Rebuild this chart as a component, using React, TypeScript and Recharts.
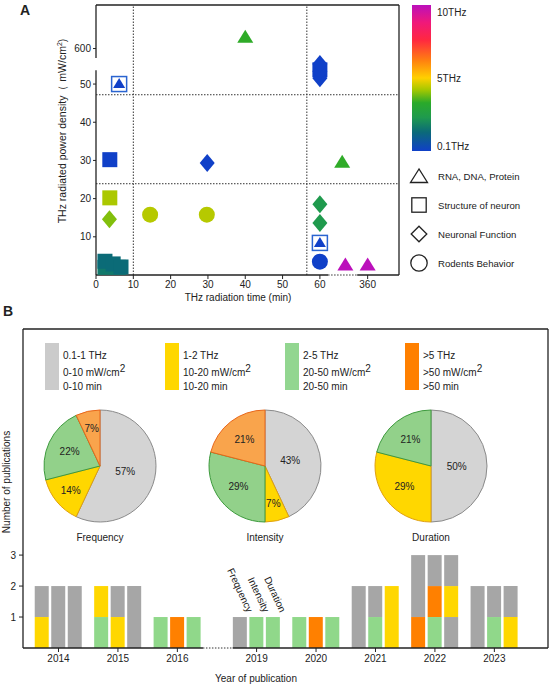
import React from 'react';
import {
  ScatterChart,
  Scatter,
  XAxis,
  YAxis,
  ReferenceLine,
  Legend,
  BarChart,
  Bar,
  Cell,
  LabelList,
  PieChart,
  Pie,
  Label,
} from 'recharts';

const FONT = '"Liberation Sans", Arial, sans-serif';
const INK = '#222';

// ---------- Panel A data (time in min, power in mW/cm2, frequency in THz) ----------
const minuteTicks = [0, 10, 20, 30, 40, 50, 60, 360];
const powerTicks = [10, 20, 30, 40, 50, 600];
const timeThresholds = [10, 56.5];
const powerThresholds = [23.9, 47.2];

const rnaDnaProtein = [
  { t: 40, p: 790, f: 3.4 },
  { t: 200, p: 29.8, f: 3.4 },
  { t: 220, p: 2.9, f: 10 },
  { t: 360, p: 2.9, f: 10 },
];
const neuronStructure = [
  { t: 2.4, p: 2.0, f: 1.7 },
  { t: 6.0, p: 2.0, f: 1.7 },
  { t: 2.4, p: 3.6, f: 1.4 },
  { t: 4.6, p: 2.9, f: 1.4 },
  { t: 6.7, p: 2.1, f: 1.4 },
  { t: 3.7, p: 30.2, f: 0.1 },
  { t: 3.7, p: 20.2, f: 4.3 },
  { t: 60, p: 270, f: 0.1 },
];
const neuronalFunction = [
  { t: 29.8, p: 29.3, f: 0.1 },
  { t: 3.6, p: 14.6, f: 4.0 },
  { t: 60, p: 18.5, f: 2.4 },
  { t: 60, p: 13.6, f: 2.4 },
  { t: 60, p: 140, f: 0.1 },
  { t: 60, p: 250, f: 0.1 },
  { t: 60, p: 360, f: 0.1 },
];
const rodentsBehavior = [
  { t: 14.5, p: 15.8, f: 4.4 },
  { t: 29.7, p: 15.8, f: 4.4 },
  { t: 60, p: 3.5, f: 0.1 },
];
// studies marked both as RNA/DNA/Protein and structure of neuron
const sharedStudies = [
  { t: 6.2, p: 50, f: 0.1 },
  { t: 60, p: 8.4, f: 0.1 },
];

const categoryNames = ['RNA, DNA, Protein', 'Structure of neuron', 'Neuronal Function', 'Rodents Behavior'];
const scaleLabels = ['0.1THz', '5THz', '10THz'];
const scaleValues = [0.1, 5, 10];

// ---------- Panel B data ----------
const bandNames = ['0.1-1 THz', '1-2 THz', '2-5 THz', '>5 THz'];
const intensityBands = ['0-10', '10-20', '20-50', '>50'];
const durationBands = ['0-10 min', '10-20 min', '20-50 min', '>50 min'];

const pieTitles = ['Frequency', 'Intensity', 'Duration'];
const frequencyShares = [57, 14, 22, 7];
const intensityShares = [43, 7, 29, 21];
const durationShares = [50, 29, 21, 0];

const years = ['2014', '2015', '2016', '2019', '2020', '2021', '2022', '2023'];
// one digit per publication, bottom to top: 1 = 0.1-1 THz band ... 4 = >5 THz band
const frequencyStacks = ['21', '32', '3', '1', '3', '11', '411', '11'];
const intensityStacks = ['11', '21', '4', '3', '4', '31', '341', '31'];
const durationStacks = ['11', '11', '3', '3', '3', '22', '121', '21'];

// ---------- styles ----------
const colorStops: [number, string][] = [
  [0, '#1040c8'],
  [0.13, '#0b6a78'],
  [0.23, '#1f9a4e'],
  [0.33, '#2aaa2a'],
  [0.42, '#a6c800'],
  [0.5, '#ffd000'],
  [0.62, '#ff8010'],
  [0.76, '#ff2840'],
  [0.88, '#f0187a'],
  [1, '#bb10bb'],
];
const barFill = ['#a6a6a6', '#ffd700', '#90d88a', '#ff8000'];
const pieFill = ['#d4d4d4', '#ffd700', '#92d18a', '#f9a44c'];
const pieStroke = ['#8a8a8a', '#e0a010', '#3d9a3d', '#e8661a'];
const swatchFill = ['#cbcbcb', '#ffd700', '#92d690', '#ff8000'];

// ---------- broken axis helpers ----------
const X_MAX = 81.2;
const Y_MAX = 70.7;
const toX = (t: number) => (t <= 60 ? t : 60 + ((t - 60) * 12.8) / 300);
const toY = (p: number) => (p <= 50 ? p : 50 + ((p - 50) * 9.3) / 550);

const freqToT = (f: number) => (f - 0.1) / 9.9;
const hex = (c: string) => [1, 3, 5].map((i) => parseInt(c.slice(i, i + 2), 16));
function freqColor(f: number) {
  const t = Math.max(0, Math.min(1, freqToT(f)));
  for (let i = 1; i < colorStops.length; i++) {
    const [t1, c1] = colorStops[i];
    const [t0, c0] = colorStops[i - 1];
    if (t <= t1) {
      const k = (t - t0) / (t1 - t0);
      const a = hex(c0);
      const b = hex(c1);
      const m = a.map((v, j) => Math.round(v + (b[j] - v) * k));
      return `rgb(${m[0]},${m[1]},${m[2]})`;
    }
  }
  return colorStops[colorStops.length - 1][1];
}

const toPoints = (pts: { t: number; p: number; f: number }[]) =>
  pts.map((d) => ({ x: toX(d.t), y: toY(d.p), color: freqColor(d.f) }));

function Marker({ kind, cx, cy, fill }: { kind: string; cx: number; cy: number; fill: string }) {
  if (kind === 'triangle')
    return <polygon points={`${cx},${cy - 6.5} ${cx - 8},${cy + 6.5} ${cx + 8},${cy + 6.5}`} fill={fill} />;
  if (kind === 'square') return <rect x={cx - 7.5} y={cy - 7.5} width={15} height={15} fill={fill} />;
  if (kind === 'diamond')
    return <polygon points={`${cx},${cy - 9} ${cx + 7.5},${cy} ${cx},${cy + 9} ${cx - 7.5},${cy}`} fill={fill} />;
  if (kind === 'circle') return <circle cx={cx} cy={cy} r={8} fill={fill} />;
  return (
    <g>
      <rect x={cx - 7.5} y={cy - 7.5} width={15} height={15} fill="#fff" stroke="#2a64d0" strokeWidth={1.5} />
      <polygon points={`${cx},${cy - 6} ${cx - 6},${cy + 4} ${cx + 6},${cy + 4}`} fill={fill} />
    </g>
  );
}

const shapeOf = (kind: string) => (props: any) =>
  <Marker kind={kind} cx={props.cx} cy={props.cy} fill={props.payload.color} />;

function ShapeLegend() {
  const barX = 7;
  const barY = 5;
  const barW = 19;
  const barH = 146;
  const kinds = ['triangle', 'square', 'diamond', 'circle'];
  return (
    <svg width={145} height={280} style={{ display: 'block' }} fontFamily={FONT}>
      <defs>
        <linearGradient id="thzScale" x1="0" y1="1" x2="0" y2="0">
          {colorStops.map(([o, c]) => (
            <stop key={o} offset={o} stopColor={c} />
          ))}
        </linearGradient>
      </defs>
      <rect x={barX} y={barY} width={barW} height={barH} fill="url(#thzScale)" />
      {scaleLabels.map((lab, i) => {
        const y = barY + barH - freqToT(scaleValues[i]) * barH;
        const yy = Math.min(Math.max(y, barY + 7), barY + barH - 5);
        return (
          <text key={lab} x={barX + barW + 6} y={yy + 3.5} fontSize={10} fill={INK}>
            {lab}
          </text>
        );
      })}
      {categoryNames.map((name, i) => {
        const cy = 176 + i * 29;
        const cx = 14;
        const k = kinds[i];
        const common = { fill: 'none', stroke: INK, strokeWidth: 1.3 };
        let glyph;
        if (k === 'triangle')
          glyph = <polygon points={`${cx},${cy - 7} ${cx - 8.5},${cy + 6.5} ${cx + 8.5},${cy + 6.5}`} {...common} />;
        else if (k === 'square') glyph = <rect x={cx - 7.2} y={cy - 7.2} width={14.4} height={14.4} {...common} />;
        else if (k === 'diamond')
          glyph = <polygon points={`${cx},${cy - 7.8} ${cx + 7.8},${cy} ${cx},${cy + 7.8} ${cx - 7.8},${cy}`} {...common} />;
        else glyph = <circle cx={cx} cy={cy} r={8.2} {...common} />;
        return (
          <g key={name}>
            {glyph}
            <text x={33} y={cy + 3.5} fontSize={9.6} fill={INK}>
              {name}
            </text>
          </g>
        );
      })}
    </svg>
  );
}

const tickStyle = { fontSize: 10, fill: INK, fontFamily: FONT };
const frameLine = { stroke: INK, strokeWidth: 1.3 };
const dotted = { stroke: '#333', strokeWidth: 1, strokeDasharray: '1.5 1.5' };

function PanelA() {
  return (
    <ScatterChart width={550} height={310} margin={{ top: 5, right: 151, bottom: 0, left: 0 }}>
      <XAxis
        type="number"
        dataKey="x"
        domain={[0, X_MAX]}
        allowDataOverflow
        ticks={minuteTicks.map(toX)}
        interval={0}
        tickFormatter={(v: number) => String(minuteTicks.find((m) => Math.abs(toX(m) - v) < 1e-6))}
        axisLine={false}
        tickLine={{ stroke: INK }}
        tickSize={4}
        tickMargin={2}
        tick={tickStyle}
        height={35}
        label={() => (
          <text x={238} y={301} textAnchor="middle" fontSize={10} fill={INK} fontFamily={FONT}>
            THz radiation time (min)
          </text>
        )}
      />
      <YAxis
        type="number"
        dataKey="y"
        domain={[0, Y_MAX]}
        allowDataOverflow
        ticks={powerTicks.map(toY)}
        interval={0}
        tickFormatter={(v: number) => String(powerTicks.find((m) => Math.abs(toY(m) - v) < 1e-6))}
        axisLine={false}
        tickLine={{ stroke: INK }}
        tickSize={3}
        tickMargin={2}
        tick={tickStyle}
        width={96}
        label={() => (
          <text
            x={65.5}
            y={131}
            transform="rotate(-90 65.5 131)"
            textAnchor="middle"
            fontSize={10.5}
            fill={INK}
            fontFamily={FONT}
          >
            THz radiated power density（ mW/cm
            <tspan dy={-4} fontSize={7}>
              2
            </tspan>
            <tspan dy={4}>)</tspan>
          </text>
        )}
      />
      {timeThresholds.map((t) => (
        <ReferenceLine key={`t${t}`} x={toX(t)} {...dotted} />
      ))}
      {powerThresholds.map((p) => (
        <ReferenceLine key={`p${p}`} y={toY(p)} {...dotted} />
      ))}
      {/* frame with axis breaks */}
      <ReferenceLine segment={[{ x: 0, y: 0 }, { x: 0, y: 53.6 }]} {...frameLine} />
      <ReferenceLine segment={[{ x: 0, y: 56.8 }, { x: 0, y: Y_MAX }]} {...frameLine} />
      <ReferenceLine segment={[{ x: 0, y: 0 }, { x: 62.2, y: 0 }]} {...frameLine} />
      <ReferenceLine segment={[{ x: 62.2, y: 0 }, { x: 70, y: 0 }]} {...dotted} />
      <ReferenceLine segment={[{ x: 70, y: 0 }, { x: X_MAX, y: 0 }]} {...frameLine} />
      <ReferenceLine y={Y_MAX} {...frameLine} />
      <ReferenceLine x={X_MAX} {...frameLine} />

      <Scatter data={toPoints(neuronStructure)} shape={shapeOf('square')} isAnimationActive={false} />
      <Scatter data={toPoints(neuronalFunction)} shape={shapeOf('diamond')} isAnimationActive={false} />
      <Scatter data={toPoints(rodentsBehavior)} shape={shapeOf('circle')} isAnimationActive={false} />
      <Scatter data={toPoints(rnaDnaProtein)} shape={shapeOf('triangle')} isAnimationActive={false} />
      <Scatter data={toPoints(sharedStudies)} shape={shapeOf('combo')} isAnimationActive={false} />
      <Legend
        layout="vertical"
        align="center"
        verticalAlign="middle"
        wrapperStyle={{ left: 405, top: 0, width: 145, height: 280 }}
        content={() => <ShapeLegend />}
      />
    </ScatterChart>
  );
}

// ---------- Panel B ----------
const B_MAX = 31.8;
const groupCenter = (i: number) => 2.15 + i * 3.6 + (i >= 3 ? 1.2 : 0);
const groupCenters = years.map((_, i) => groupCenter(i));

const runsOf = (s: string) => {
  const runs: { band: number; n: number }[] = [];
  for (const ch of s) {
    const band = Number(ch) - 1;
    const last = runs[runs.length - 1];
    if (last && last.band === band) last.n += 1;
    else runs.push({ band, n: 1 });
  }
  return runs;
};

const metricStacks = [frequencyStacks, intensityStacks, durationStacks];
const barRows = years.flatMap((year, yi) =>
  metricStacks.map((stacks, mi) => {
    const runs = runsOf(stacks[yi]);
    const row: any = { x: groupCenter(yi) + (mi - 1), year, tag: year === '2019' ? pieTitles[mi] : null };
    [0, 1, 2].forEach((k) => {
      row[`s${k}`] = runs[k] ? runs[k].n : 0;
      row[`c${k}`] = runs[k] ? barFill[runs[k].band] : 'none';
    });
    return row;
  }),
);

const renderTag = (p: any) => {
  if (!p.value) return null;
  const vb = p.viewBox ?? p;
  const x = vb.x + vb.width / 2 + 7;
  const y = vb.y - 4;
  return (
    <text x={x} y={y} transform={`rotate(65 ${x} ${y})`} textAnchor="end" fontSize={10} fill={INK} fontFamily={FONT}>
      {p.value}
    </text>
  );
};

function PanelBBars() {
  const breakA = groupCenter(2) + 1.55;
  const breakB = groupCenter(3) - 1.45;
  return (
    <BarChart width={550} height={366} data={barRows} margin={{ top: 9, right: 2, bottom: 0, left: 0 }}>
      <XAxis
        type="number"
        dataKey="x"
        domain={[0, B_MAX]}
        allowDataOverflow
        ticks={groupCenters}
        interval={0}
        tickFormatter={(v: number) => years[groupCenters.findIndex((g) => Math.abs(g - v) < 1e-6)]}
        axisLine={false}
        tickLine={{ stroke: INK }}
        tickSize={4}
        tickMargin={3}
        tick={tickStyle}
        height={38}
        label={() => (
          <text x={256} y={681.5 - 320} textAnchor="middle" fontSize={10} fill={INK} fontFamily={FONT}>
            Year of publication
          </text>
        )}
      />
      <YAxis
        type="number"
        domain={[0, 10.3]}
        allowDataOverflow
        ticks={[1, 2, 3]}
        interval={0}
        axisLine={false}
        tickLine={{ stroke: INK }}
        tickSize={4}
        tickMargin={3}
        tick={tickStyle}
        width={23}
        label={() => (
          <text x={10} y={162} transform="rotate(-90 10 162)" textAnchor="middle" fontSize={10} fill={INK} fontFamily={FONT}>
            Number of publications
          </text>
        )}
      />
      {[0, 1, 2].map((k) => (
        <Bar key={k} dataKey={`s${k}`} stackId="pub" barSize={14} isAnimationActive={false}>
          {barRows.map((r, i) => (
            <Cell key={i} fill={r[`c${k}`]} />
          ))}
          {k === 0 && <LabelList dataKey="tag" content={renderTag} />}
        </Bar>
      ))}
      <ReferenceLine x={0} {...frameLine} />
      <ReferenceLine y={10.3} {...frameLine} />
      <ReferenceLine x={B_MAX} {...frameLine} />
      <ReferenceLine segment={[{ x: 0, y: 0 }, { x: breakA, y: 0 }]} {...frameLine} />
      <ReferenceLine segment={[{ x: breakA, y: 0 }, { x: breakB, y: 0 }]} {...dotted} />
      <ReferenceLine segment={[{ x: breakB, y: 0 }, { x: B_MAX, y: 0 }]} {...frameLine} />
    </BarChart>
  );
}

function BandLegend() {
  return (
    <svg width={550} height={80} style={{ display: 'block' }} fontFamily={FONT}>
      {bandNames.map((name, i) => {
        const x = 45 + i * 120;
        return (
          <g key={name}>
            <rect x={x} y={23} width={14} height={47} fill={swatchFill[i]} />
            <text x={x + 18} y={38.6} fontSize={10} fill={INK}>
              {name}
            </text>
            <text x={x + 18} y={55.6} fontSize={10} fill={INK}>
              {intensityBands[i]} mW/cm
              <tspan dy={-4} fontSize={10}>
                2
              </tspan>
            </text>
            <text x={x + 18} y={69.6} fontSize={10} fill={INK}>
              {durationBands[i]}
            </text>
          </g>
        );
      })}
    </svg>
  );
}

const RAD = Math.PI / 180;
const renderPct = (p: any) => {
  const k = p.value >= 40 ? 0.46 : p.value < 15 ? 0.68 : 0.6;
  const r = p.outerRadius * k;
  const x = p.cx + r * Math.cos(-p.midAngle * RAD);
  const y = p.cy + r * Math.sin(-p.midAngle * RAD);
  return (
    <text x={x} y={y + 3.5} textAnchor="middle" fontSize={10} fill={INK} fontFamily={FONT}>
      {`${p.value}%`}
    </text>
  );
};

function PanelBPies() {
  const shares = [frequencyShares, intensityShares, durationShares];
  const centers = [100, 265, 431];
  return (
    <PieChart width={550} height={230} margin={{ top: 0, right: 0, bottom: 0, left: 0 }}>
      {shares.map((arr, pi) => {
        const rows = arr.map((value, band) => ({ value, band })).filter((d) => d.value > 0);
        return (
          <Pie
            key={pieTitles[pi]}
            data={rows}
            dataKey="value"
            cx={centers[pi]}
            cy={146}
            outerRadius={56}
            startAngle={90}
            endAngle={-270}
            label={renderPct}
            labelLine={false}
            isAnimationActive={false}
          >
            {rows.map((d) => (
              <Cell key={d.band} fill={pieFill[d.band]} stroke={pieStroke[d.band]} strokeWidth={1} />
            ))}
            <Label
              content={(lp: any) => {
                const vb = lp.viewBox ?? {};
                const cx = vb.cx ?? centers[pi];
                const cy = (vb.cy ?? 146) + (vb.outerRadius ?? 56) + 19;
                return (
                  <text x={cx} y={cy} textAnchor="middle" fontSize={10} fill={INK} fontFamily={FONT}>
                    {pieTitles[pi]}
                  </text>
                );
              }}
            />
          </Pie>
        );
      })}
      <Legend
        layout="vertical"
        align="center"
        verticalAlign="middle"
        wrapperStyle={{ left: 0, top: 0, width: 550, height: 80 }}
        content={() => <BandLegend />}
      />
    </PieChart>
  );
}

export default function App() {
  const letter = { position: 'absolute' as const, fontWeight: 700, fontSize: 14, lineHeight: '14px', color: INK };
  return (
    <div
      style={{
        position: 'absolute',
        left: 0,
        top: 0,
        width: 550,
        height: 686,
        background: '#fff',
        fontFamily: FONT,
        overflow: 'hidden',
      }}
    >
      <div style={{ position: 'absolute', left: 0, top: 0 }}>
        <PanelA />
      </div>
      <div style={{ position: 'absolute', left: 0, top: 320 }}>
        <PanelBBars />
      </div>
      <div style={{ position: 'absolute', left: 0, top: 320 }}>
        <PanelBPies />
      </div>
      <div style={{ ...letter, left: 20, top: 3 }}>A</div>
      <div style={{ ...letter, left: 3, top: 304 }}>B</div>
    </div>
  );
}
